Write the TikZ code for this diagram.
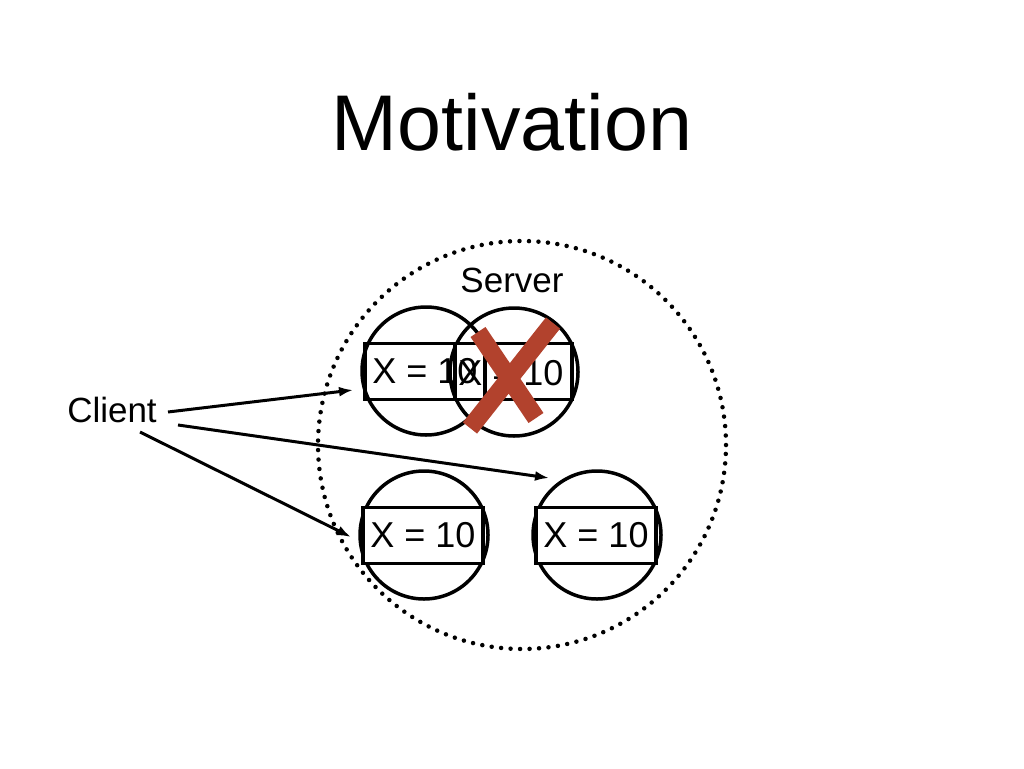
\documentclass[tikz,border=0pt]{standalone}
\usepackage{fontspec}
\setmainfont{Liberation Sans}
\usetikzlibrary{arrows.meta}
\begin{document}
\begin{tikzpicture}[x=1pt,y=-1pt,
  ring/.style={draw,line width=3.5pt,circle,minimum size=128pt,inner sep=0pt},
  vbox/.style={draw,line width=3.5pt,minimum width=120pt,minimum height=56pt,inner sep=0pt,font=\fontsize{36}{36}\selectfont},
  arr/.style={line width=3pt,-{Latex[length=14pt,width=10pt]}}]
\useasboundingbox (0,0) rectangle (1024,768);
\node[font=\fontsize{79}{79}\selectfont] (title) at (512,122) {Motivation};
\node[draw,circle,line width=4.5pt,line cap=round,dash pattern=on 0pt off 9.5pt,minimum size=408pt] (server) at (522,445) {};
\node[font=\fontsize{35}{35}\selectfont] (slab) at (512,280) {Server};
\node[ring] (c1) at (426,371) {};
\node[ring] (c2) at (514,372) {};
\node[ring] (c3) at (424,535) {};
\node[ring] (c4) at (597,535) {};
\node[vbox,fill=white,minimum width=117pt] (b2) at (513.5,371.5) {};
\node[vbox] (b1) at (425,371.5) {X = 10};
\node[font=\fontsize{36}{36}\selectfont] (t2) at (511,373) {X = 10};
\node[vbox,fill=white] (b3) at (423,535.5) {X = 10};
\node[vbox,fill=white] (b4) at (596,535.5) {X = 10};
\coordinate (xa) at (478,332); \coordinate (xb) at (536,418);
\coordinate (xc) at (553,323); \coordinate (xd) at (470,428);
\draw[line width=18pt,color={rgb,255:red,178;green,66;blue,45}] (xa)--(xb) (xc)--(xd);
\node[font=\fontsize{35}{35}\selectfont] (client) at (112,410) {Client};
\coordinate (s1) at (168,412); \coordinate (e1) at (353,390);
\coordinate (s2) at (178,425); \coordinate (e2) at (549,478);
\coordinate (s3) at (140,432); \coordinate (e3) at (351,537);
\draw[arr] (s1) -- (e1);
\draw[arr] (s2) -- (e2);
\draw[arr] (s3) -- (e3);
\end{tikzpicture}
\end{document}
